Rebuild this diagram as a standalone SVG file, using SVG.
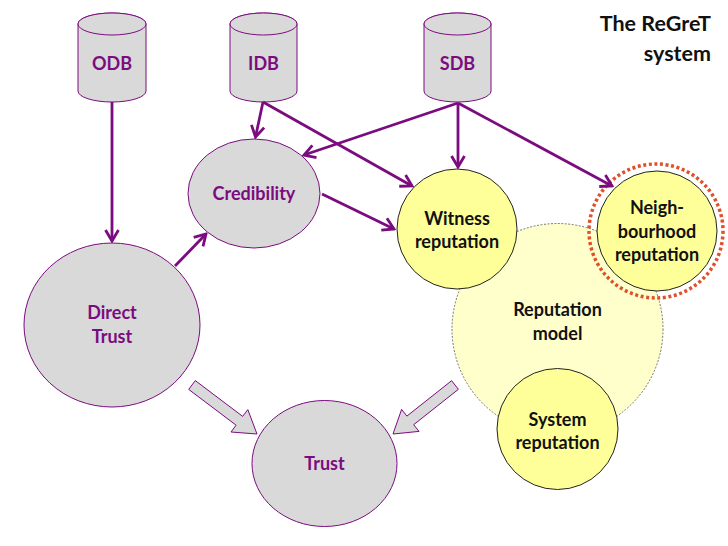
<svg xmlns="http://www.w3.org/2000/svg" width="728" height="546" viewBox="0 0 728 546">
<defs>
<style>
.t{font-family:Lato,"Open Sans","Liberation Sans",sans-serif;font-weight:bold;font-size:18px;text-anchor:middle}
.p{fill:#7B0C7F}
.k{fill:#111}
.grey{fill:#D9D9D9;stroke:#7B0C7F;stroke-width:1}
.yel{fill:#FFFF99;stroke:#222;stroke-width:1}
.con{fill:none;stroke:#7B0C7F;stroke-width:2.8}
.blk{fill:#D9D9D9;stroke:#7B0C7F;stroke-width:1}
</style>
<marker id="ah" markerUnits="userSpaceOnUse" viewBox="-13 -8 15 16" markerWidth="15" markerHeight="16" refX="0" refY="0" orient="auto">
<path d="M-11,-6.5 L0,0 L-11,6.5" fill="none" stroke="#7B0C7F" stroke-width="2.8"/>
</marker>
</defs>
<rect width="728" height="546" fill="#fff"/>

<g id="title">
<text class="t k" x="711" y="31" style="text-anchor:end;font-size:21.5px">The ReGreT</text>
<text class="t k" x="711" y="61" style="text-anchor:end;font-size:21.5px">system</text>
</g>

<g id="odb">
<path class="grey" d="M78,24 L78,91 A34,11 0 0 0 146,91 L146,24 A34,11 0 0 0 78,24 Z"/>
<ellipse class="grey" cx="112" cy="24" rx="34" ry="11"/>
<text class="t p" x="112" y="70">ODB</text>
</g>
<g id="idb">
<path class="grey" d="M230,24 L230,91 A33.5,11 0 0 0 297,91 L297,24 A33.5,11 0 0 0 230,24 Z"/>
<ellipse class="grey" cx="263.5" cy="24" rx="33.5" ry="11"/>
<text class="t p" x="263.5" y="70">IDB</text>
</g>
<g id="sdb">
<path class="grey" d="M424,24 L424,91 A33.5,11 0 0 0 491,91 L491,24 A33.5,11 0 0 0 424,24 Z"/>
<ellipse class="grey" cx="457.5" cy="24" rx="33.5" ry="11"/>
<text class="t p" x="457.5" y="70">SDB</text>
</g>

<g id="direct-trust">
<ellipse class="grey" cx="112" cy="325" rx="88" ry="82"/>
<text class="t p" x="112" y="319">Direct</text>
<text class="t p" x="112" y="343">Trust</text>
</g>
<g id="credibility">
<ellipse class="grey" cx="254" cy="193.5" rx="66" ry="54.5"/>
<text class="t p" x="254" y="200">Credibility</text>
</g>
<g id="trust">
<ellipse class="grey" cx="324.5" cy="463.5" rx="72.5" ry="63"/>
<text class="t p" x="324.5" y="470">Trust</text>
</g>

<g id="reputation-model">
<circle cx="557.5" cy="329" r="105.5" fill="#FFFFCC" stroke="#555" stroke-width="0.8" stroke-dasharray="2 1.5"/>
<text class="t k" x="557.5" y="316">Reputation</text>
<text class="t k" x="557.5" y="340">model</text>
</g>
<g id="witness-reputation">
<circle class="yel" cx="457" cy="229" r="60"/>
<text class="t k" x="457" y="225">Witness</text>
<text class="t k" x="457" y="248">reputation</text>
</g>
<g id="neighbourhood-reputation">
<circle class="yel" cx="657" cy="231" r="60"/>
<circle cx="656" cy="231" r="67" fill="none" stroke="#E0502A" stroke-width="3.5" stroke-dasharray="3 2.6"/>
<text class="t k" x="657" y="214">Neigh-</text>
<text class="t k" x="657" y="238">bourhood</text>
<text class="t k" x="657" y="261">reputation</text>
</g>
<g id="system-reputation">
<circle class="yel" cx="557.5" cy="429" r="60.5"/>
<text class="t k" x="557.5" y="426">System</text>
<text class="t k" x="557.5" y="449">reputation</text>
</g>

<g id="connectors">
<line class="con" x1="112" y1="102" x2="112" y2="241" marker-end="url(#ah)"/>
<line class="con" x1="175" y1="266" x2="206" y2="234" marker-end="url(#ah)"/>
<line class="con" x1="263" y1="102" x2="255.5" y2="137" marker-end="url(#ah)"/>
<line class="con" x1="263" y1="102" x2="412" y2="186" marker-end="url(#ah)"/>
<line class="con" x1="458" y1="103" x2="304" y2="155" marker-end="url(#ah)"/>
<line class="con" x1="458" y1="103" x2="458" y2="167" marker-end="url(#ah)"/>
<line class="con" x1="458" y1="103" x2="612" y2="186" marker-end="url(#ah)"/>
<line class="con" x1="322" y1="194" x2="394" y2="229" marker-end="url(#ah)"/>
<polygon class="blk" points="188.7,389.4 195.3,380.6 242.7,416.4 247.8,409.6 257,434 231,432 236.1,425.2"/>
<polygon class="blk" points="458.4,389.3 451.6,380.7 406.9,416.1 401.6,409.4 393,434 419,431.4 413.7,424.7"/>
</g>
</svg>
